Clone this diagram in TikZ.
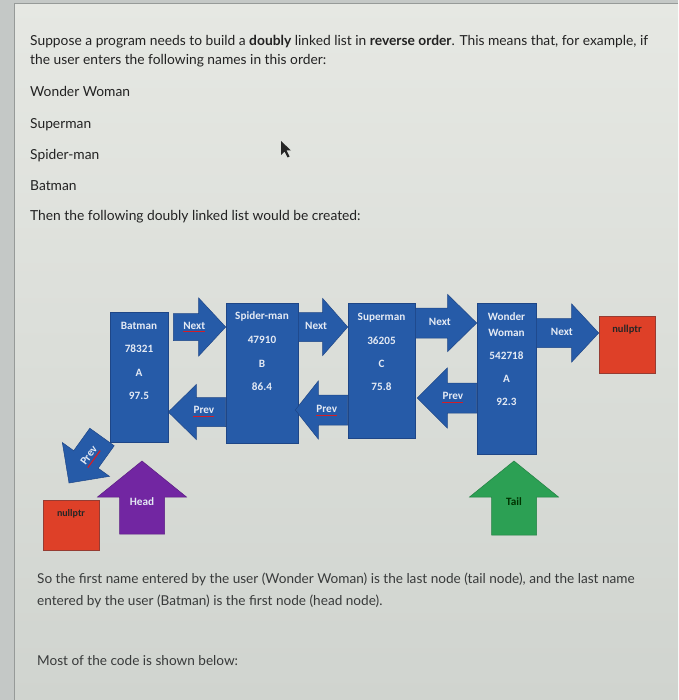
\documentclass[tikz,border=0pt]{standalone}
\usepackage{fontspec}
\setmainfont{Lato}
\newfontfamily\diagfont{Carlito}
\usetikzlibrary{calc}
\definecolor{bgtop}{RGB}{230,232,227}
\definecolor{bgbot}{RGB}{208,212,207}
\definecolor{bgedge}{RGB}{196,200,198}
\definecolor{frame}{RGB}{150,154,152}
\definecolor{ink}{RGB}{34,34,34}
\definecolor{inkb}{RGB}{56,58,58}
\definecolor{boxblue}{RGB}{38,91,168}
\definecolor{boxedge}{RGB}{30,70,135}
\definecolor{nullred}{RGB}{222,64,40}
\definecolor{nulledge}{RGB}{150,60,50}
\definecolor{headpurple}{RGB}{114,38,162}
\definecolor{tailgreen}{RGB}{44,160,84}
\definecolor{lbl}{RGB}{228,234,244}
\definecolor{ulred}{RGB}{210,30,40}
% block arrow: #1 style, #2 tail, #3 tip, #4 shaft half width, #5 head half width, #6 head length
\newcommand\blockarr[6]{%
  \filldraw[#1] ($(#2)!#4!90:(#3)$) -- ($(#3)!#6!(#2)!#4!90:(#3)$)
    -- ($(#3)!#6!(#2)!#5!90:(#3)$) -- (#3)
    -- ($(#3)!#6!(#2)!#5!-90:(#3)$) -- ($(#3)!#6!(#2)!#4!-90:(#3)$)
    -- ($(#2)!#4!-90:(#3)$) -- cycle;}
% red spell-check underline below a label node
\newcommand\spellul[1]{%
  \draw[ulred, line width=1.2pt] ($(#1.south west)!2.5pt!-90:(#1.south east)$) -- ($(#1.south east)!2.5pt!90:(#1.south west)$);}
\begin{document}
\begin{tikzpicture}[x=1pt,y=-1pt,
  para/.style={font=\fontsize{13.8}{16}\selectfont, text=ink, inner sep=0pt, anchor=base west},
  parab/.style={para, font=\fontsize{13.6}{16}\selectfont, text=inkb},
  listbox/.style={draw=boxedge, fill=boxblue, line width=0.6pt, inner sep=0pt},
  nullbox/.style={draw=nulledge, fill=nullred, line width=0.6pt, inner sep=0pt},
  boxtext/.style={font=\diagfont\bfseries\fontsize{11.2}{13}\selectfont, text=lbl, inner sep=0pt, anchor=base},
  arrtext/.style={font=\diagfont\bfseries\fontsize{11.2}{13}\selectfont, text=lbl, inner sep=0pt},
  darktext/.style={font=\diagfont\bfseries\fontsize{10.5}{12}\selectfont, text=black!85, inner sep=0pt, anchor=base},
  blk/.style={fill=boxblue, draw=boxedge, line width=0.5pt},
  purp/.style={fill=headpurple, draw=headpurple!80!black, line width=0.5pt},
  grn/.style={fill=tailgreen, draw=tailgreen!80!black, line width=0.5pt}
]
\useasboundingbox (0,0) rectangle (678,700);
\shade[top color=bgtop, bottom color=bgbot] (0,0) rectangle (678,700);
\fill[bgedge] (0,0) rectangle (14,700);
\fill[bgedge] (14,0) rectangle (678,3);
\draw[frame, line width=1pt] (14,700) -- (14,3.5) -- (678,3.5);

% text above
\node[para] (p1) at (30,46) {Suppose a program needs to build a \textbf{doubly} linked list in \textbf{reverse order}. This means that, for example, if};
\node[para] (p2) at (30,64.5) {the user enters the following names in this order:};
\node[para] (n1) at (30,96.5) {Wonder Woman};
\node[para] (n2) at (30,128.5) {Superman};
\node[para] (n3) at (30,160) {Spider-man};
\node[para] (n4) at (30,191) {Batman};
\node[para] (p3) at (30,221) {Then the following doubly linked list would be created:};

% mouse pointer
\fill[black!85] (281,141) -- (281,155) -- (284.5,151.5) -- (287.5,157.5) -- (289.5,156.5) -- (286.5,150.5) -- (291,150.5) -- cycle;

% list boxes
\node[listbox, minimum width=58pt, minimum height=130pt] (batman) at (139,377) {};
\node[listbox, minimum width=72pt, minimum height=140pt] (spider) at (262,373) {};
\node[listbox, minimum width=67pt, minimum height=135pt] (superman) at (381.5,370.5) {};
\node[listbox, minimum width=59pt, minimum height=151pt] (wonder) at (506.5,378.5) {};
\node[nullbox, minimum width=56pt, minimum height=57pt] (nullR) at (627,344.5) {};
\node[nullbox, minimum width=56pt, minimum height=50pt] (nullL) at (71,525) {};

% box contents
\node[boxtext] (bat1) at (139,329) {Batman};
\node[boxtext] (bat2) at (139,352) {78321};
\node[boxtext] (bat3) at (139,376) {A};
\node[boxtext] (bat4) at (139,399) {97.5};
\node[boxtext] (spi1) at (262,319) {Spider-man};
\node[boxtext] (spi2) at (262,343) {47910};
\node[boxtext] (spi3) at (262,367) {B};
\node[boxtext] (spi4) at (262,390) {86.4};
\node[boxtext] (sup1) at (381.5,320) {Superman};
\node[boxtext] (sup2) at (381.5,344) {36205};
\node[boxtext] (sup3) at (381.5,367) {C};
\node[boxtext] (sup4) at (381.5,390) {75.8};
\node[boxtext] (won1) at (506.5,320) {Wonder};
\node[boxtext] (won2) at (506.5,336) {Woman};
\node[boxtext] (won3) at (506.5,359) {542718};
\node[boxtext] (won4) at (506.5,382) {A};
\node[boxtext] (won5) at (506.5,405) {92.3};
\node[darktext] (nulltR) at (627,332) {nullptr};
\node[darktext, font=\diagfont\bfseries\fontsize{10}{12}\selectfont] (nulltL) at (71,516) {nullptr};

% arrow end points
\coordinate (x1s) at ($(batman.east |- 0,327)+(5,0)$);
\coordinate (x1e) at (spider.west |- 0,327);
\coordinate (x2s) at (spider.east |- 0,327);
\coordinate (x2e) at (superman.west |- 0,327);
\coordinate (x3s) at (superman.east |- 0,323);
\coordinate (x3e) at (wonder.west |- 0,323);
\coordinate (x4s) at (wonder.east |- 0,333);
\coordinate (x4e) at (nullR.west |- 0,333);
\coordinate (v1s) at (spider.west |- 0,412);
\coordinate (v1e) at (batman.east |- 0,412);
\coordinate (v2s) at (superman.west |- 0,410);
\coordinate (v2e) at ($(spider.east |- 0,410)+(-3,0)$);
\coordinate (v3s) at (wonder.west |- 0,398);
\coordinate (v3e) at ($(superman.east |- 0,398)+(2,0)$);
\coordinate (vds) at (102,437);
\coordinate (vde) at (69,483);
\coordinate (hs) at (142,534);
\coordinate (he) at (142,461);
\coordinate (ts) at (514,535);
\coordinate (te) at (514,461);

% next arrows
\blockarr{blk}{x1s}{x1e}{13.5pt}{29pt}{27pt}
\blockarr{blk}{x2s}{x2e}{14.5pt}{28.5pt}{25pt}
\blockarr{blk}{x3s}{x3e}{15pt}{28.5pt}{29pt}
\blockarr{blk}{x4s}{x4e}{14.5pt}{29pt}{27pt}
% prev arrows
\blockarr{blk}{v1s}{v1e}{14.5pt}{27.5pt}{28pt}
\blockarr{blk}{v2s}{v2e}{15pt}{29pt}{23pt}
\blockarr{blk}{v3s}{v3e}{15pt}{30pt}{30pt}
\blockarr{blk}{vds}{vde}{15pt}{29pt}{29pt}
% head and tail
\blockarr{purp}{hs}{he}{22.5pt}{44.5pt}{36pt}
\blockarr{grn}{ts}{te}{22.5pt}{44.5pt}{36pt}

% arrow labels
\node[arrtext] (lx1) at ($(x1s)!0.4!(x1e)+(0,-1.5)$) {Next};
\node[arrtext] (lx2) at ($(x2s)!0.36!(x2e)+(0,-1)$) {Next};
\node[arrtext] (lx3) at ($(x3s)!0.4!(x3e)+(0,-1)$) {Next};
\node[arrtext] (lx4) at ($(x4s)!0.41!(x4e)+(0,-1)$) {Next};
\node[arrtext] (lv1) at ($(v1s)!0.38!(v1e)+(0,-2)$) {Prev};
\node[arrtext] (lv2) at ($(v2s)!0.4!(v2e)+(0,-1)$) {Prev};
\node[arrtext] (lv3) at ($(v3s)!0.4!(v3e)+(0,-2)$) {Prev};
\node[arrtext, rotate=54] (lvd) at ($(vds)!0.4!(vde)$) {Prev};
\node[arrtext] (lh) at (142,502) {Head};
\node[arrtext, text=black!80!green] (lt) at (514,502) {Tail};
\spellul{lx1}
\spellul{lv1}
\spellul{lv2}
\spellul{lv3}
\spellul{lvd}

% text below
\node[parab] (q1) at (37,583) {So the first name entered by the user (Wonder Woman) is the last node (tail node), and the last name};
\node[parab] (q2) at (37,605) {entered by the user (Batman) is the first node (head node).};
\node[parab] (q3) at (37,665) {Most of the code is shown below:};
\end{tikzpicture}
\end{document}
